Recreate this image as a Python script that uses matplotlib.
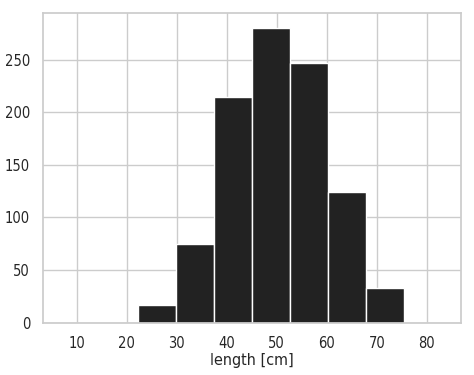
import matplotlib
matplotlib.use("Agg")
import matplotlib.pyplot as plt
import seaborn as sns

sns.set_theme(style="whitegrid")
plt.rcParams['font.family'] = ['DejaVu Sans']
plt.rcParams['font.stretch'] = 'condensed'

bin_edges = [7.1, 14.69, 22.28, 29.87, 37.46, 45.05, 52.64, 60.23, 67.82, 75.41, 83.0]
counts = [0, 0, 17, 75, 214, 280, 247, 124, 33, 0]
xticks = [10, 20, 30, 40, 50, 60, 70, 80]
yticks = [0, 50, 100, 150, 200, 250]

fig = plt.figure(figsize=(4.74, 3.75), dpi=100)
ax = fig.add_axes([0.0914, 0.1395, 0.8806, 0.825])
centers = [(a + b) / 2 for a, b in zip(bin_edges[:-1], bin_edges[1:])]
ax.hist(centers, bins=bin_edges, weights=counts, color="#222222", edgecolor="white", linewidth=1.0)
ax.set_xticks(xticks)
ax.set_yticks(yticks)
ax.tick_params(labelsize=10.5)
ax.set_xlabel("length [cm]", fontsize=11.5, labelpad=1.5)
fig.savefig("out.png", dpi=100)
